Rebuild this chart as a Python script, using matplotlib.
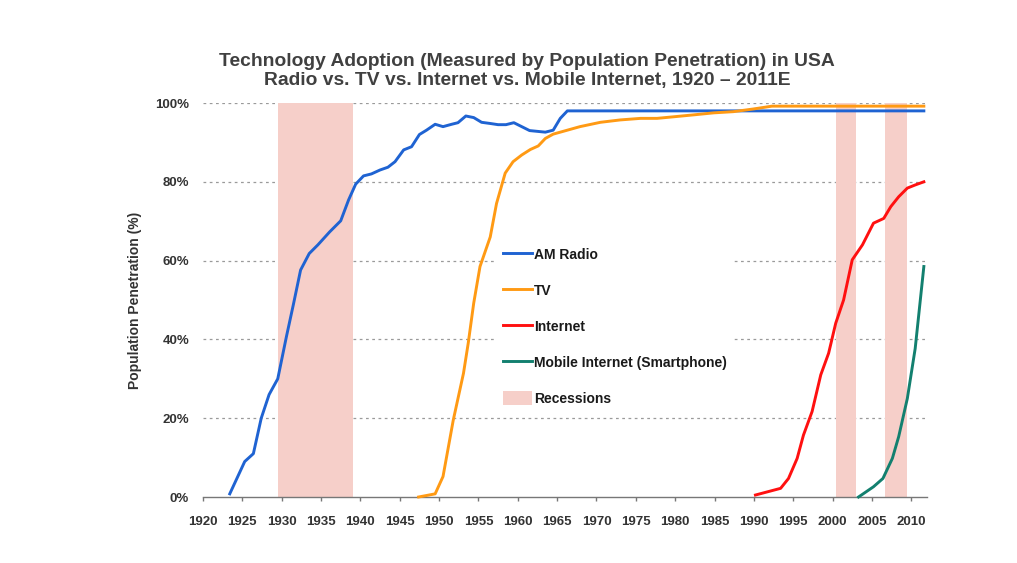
import matplotlib
matplotlib.use("Agg")
import matplotlib.pyplot as plt
from matplotlib.patches import Patch
from matplotlib.lines import Line2D

# data (year, % of US population)
radio_years = [1923.4, 1925.3, 1926.4, 1927.4, 1928.4, 1929.5, 1930.6, 1931.5, 1932.4, 1933.5,
               1934.6, 1936.1, 1937.5, 1938.5, 1939.4, 1940.4, 1941.4, 1942.5, 1943.5, 1944.4,
               1945.5, 1946.5, 1947.5, 1948.4, 1949.5, 1950.5, 1951.6, 1952.4, 1953.4, 1954.4,
               1955.4, 1956.5, 1957.5, 1958.5, 1959.5, 1960.5, 1961.5, 1962.5, 1963.5, 1964.5,
               1965.4, 1966.3, 2011.6]
radio_vals = [0.8, 9, 11, 20, 26, 30, 40.7, 49, 57.6, 61.8,
              64, 67.3, 70.1, 75.4, 79.4, 81.5, 82, 83, 83.7, 85.1,
              88.1, 88.9, 92, 93.1, 94.6, 94, 94.6, 95, 96.7, 96.3,
              95.1, 94.8, 94.5, 94.5, 95, 94, 93, 92.8, 92.6, 93.1,
              96.1, 98, 98]

tv_years = [1947.4, 1949.5, 1950.5, 1951.8, 1953.1, 1953.7, 1954.4, 1955.2, 1956.5, 1957.3,
            1958.4, 1959.4, 1960.5, 1961.6, 1962.6, 1963.5, 1964.5, 1965.4, 1967.9, 1970.5,
            1973.0, 1975.6, 1977.7, 1979.8, 1982.4, 1984.9, 1987.4, 1990.0, 1992.3, 2011.6]
tv_vals = [0, 0.8, 5.2, 19.5, 31.4, 39, 49.2, 58.5, 66, 74.5,
           82.2, 85.1, 86.8, 88.2, 89.1, 91, 92.1, 92.6, 94, 95.1,
           95.7, 96.1, 96.1, 96.5, 97, 97.5, 97.8, 98.5, 99.2, 99.2]

internet_years = [1990.2, 1993.4, 1994.4, 1995.5, 1996.3, 1997.4, 1998.5, 1999.5, 2000.4, 2001.4,
                  2002.5, 2003.8, 2005.2, 2006.5, 2007.4, 2008.4, 2009.5, 2010.5, 2011.6]
internet_vals = [0.5, 2.2, 4.7, 9.8, 15.7, 21.7, 31, 36.5, 44.1, 50,
                 60.2, 64, 69.5, 70.7, 73.7, 76.2, 78.4, 79.2, 80]

mobile_years = [2003.3, 2005.2, 2006.4, 2007.6, 2008.4, 2009.5, 2010.5, 2011.6]
mobile_vals = [0, 2.6, 4.7, 9.8, 15.3, 25, 37.7, 58.5]

recessions = [(1929.5, 1939.0), (2000.4, 2003.0), (2006.7, 2009.4)]

x_ticks = list(range(1920, 2011, 5))
y_ticks = [0, 20, 40, 60, 80, 100]

c_radio = '#1F63D2'
c_tv = '#FF9A14'
c_net = '#FF1010'
c_mob = '#13806F'
c_rec = '#F6CFC9'
c_txt = '#333333'

plt.rcParams['font.family'] = ['Liberation Sans', 'DejaVu Sans']
plt.rcParams['font.weight'] = 'bold'

fig = plt.figure(figsize=(10.17, 5.63), dpi=100, facecolor='w')
ax = fig.add_axes([203/1017, 1-497/563, (927-203)/1017, (497-103)/563])

for a, b in recessions:
    ax.axvspan(a, b, ymin=0, ymax=1, color=c_rec, lw=0, zorder=1)

for yv in y_ticks[1:]:
    ax.axhline(yv, color='#9a9a9a', lw=0.9, ls=(0, (2.2, 2.8)), zorder=0.5)

ax.plot(radio_years, radio_vals, color=c_radio, lw=2.1, zorder=3, clip_on=False)
ax.plot(tv_years, tv_vals, color=c_tv, lw=2.1, zorder=3, clip_on=False)
ax.plot(internet_years, internet_vals, color=c_net, lw=2.1, zorder=3, clip_on=False)
ax.plot(mobile_years, mobile_vals, color=c_mob, lw=2.1, zorder=3, clip_on=False)

ax.set_xlim(1920, 2012)
ax.set_ylim(0, 100)
ax.set_xticks(x_ticks)
ax.set_xticklabels([str(x) for x in x_ticks])
ax.set_yticks(y_ticks)
ax.set_yticklabels(['%d%%' % y for y in y_ticks])

for s in ['top', 'right', 'left']:
    ax.spines[s].set_visible(False)
ax.spines['bottom'].set_color('#777777')
ax.spines['bottom'].set_linewidth(1.0)
ax.tick_params(axis='x', direction='out', length=3, width=1, color='#777777',
               pad=10.5, labelsize=9.5, labelcolor=c_txt)
ax.tick_params(axis='y', length=0, pad=10, labelsize=9.5, labelcolor=c_txt)
for lab in ax.get_xticklabels() + ax.get_yticklabels():
    lab.set_fontweight('bold')

handles = [Line2D([], [], color=c_radio, lw=2.1),
           Line2D([], [], color=c_tv, lw=2.1),
           Line2D([], [], color=c_net, lw=2.1),
           Line2D([], [], color=c_mob, lw=2.1),
           Patch(facecolor=c_rec, edgecolor='none')]
labels = ['AM Radio', 'TV', 'Internet', 'Mobile Internet (Smartphone)', 'Recessions']
leg = ax.legend(handles, labels, loc='upper left', bbox_to_anchor=(497/1017, 1-242/563),
                bbox_transform=fig.transFigure, frameon=True, facecolor='white',
                edgecolor='none', framealpha=1, fancybox=False, borderpad=0.4,
                borderaxespad=0, handlelength=2.1, handleheight=1.1, handletextpad=0.15,
                labelspacing=1.55, prop={'size': 10, 'weight': 'bold'})
for t in leg.get_texts():
    t.set_color('#1a1a1a')
leg.set_zorder(5)

fig.text(135/1017, 1-300/563, 'Population Penetration (%)', rotation=90,
         ha='center', va='center', fontsize=10, fontweight='bold', color=c_txt)
fig.text(527/1017, 1-71/563,
         'Technology Adoption (Measured by Population Penetration) in USA\n'
         'Radio vs. TV vs. Internet vs. Mobile Internet, 1920 \u2013 2011E',
         ha='center', va='center', fontsize=13.9, fontweight='bold',
         color='#404040', linespacing=1.15)

fig.savefig('out.png', dpi=100, facecolor='w')
